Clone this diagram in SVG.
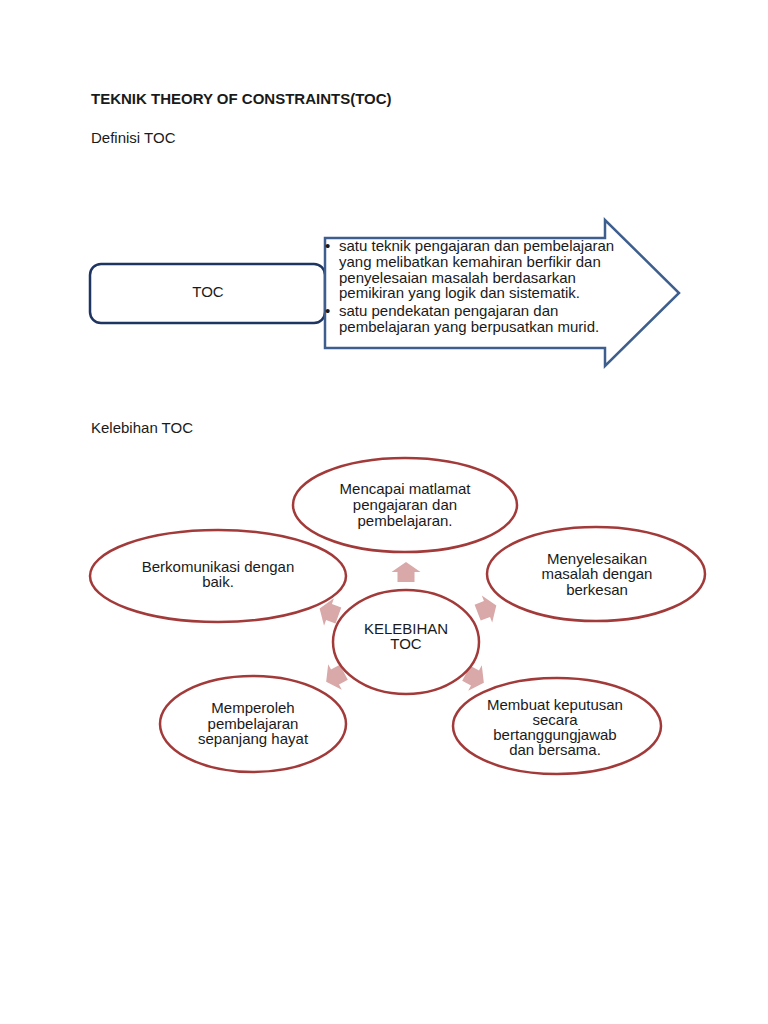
<svg xmlns="http://www.w3.org/2000/svg" xmlns:xlink="http://www.w3.org/1999/xlink" width="768" height="1024" viewBox="0 0 768 1024">
<style>
text{font-family:"Liberation Sans",Arial,sans-serif;font-size:15px;fill:#1a1a1a}
.b{font-weight:bold}
.c{text-anchor:middle}
.el{fill:#ffffff;stroke:#a23a3a;stroke-width:2.5}
.ar{fill:#d9a8a8}
</style>
<defs>
<path id="ba" d="M0,-10 L14.5,0 L8.5,0 L8.5,10 L-8.5,10 L-8.5,0 L-14.5,0 Z"/>
</defs>
<rect width="768" height="1024" fill="#ffffff"/>
<text class="b" x="91" y="104">TEKNIK THEORY OF CONSTRAINTS(TOC)</text>
<text x="91" y="143">Definisi TOC</text>
<g id="toc">
<rect x="90" y="264" width="235" height="59" rx="11" fill="#ffffff" stroke="#1f3561" stroke-width="2.5"/>
<text class="c" x="208" y="297">TOC</text>
</g>
<g id="definisi">
<path d="M325,238 L605,238 L605,220 L679,293 L605,366 L605,348 L325,348 Z" fill="#ffffff" stroke="#3e5f8e" stroke-width="2.5"/>
<text x="325" y="251">•</text>
<text x="339" y="251">satu teknik pengajaran dan pembelajaran</text>
<text x="339" y="267">yang melibatkan kemahiran berfikir dan</text>
<text x="339" y="283">penyelesaian masalah berdasarkan</text>
<text x="339" y="298">pemikiran yang logik dan sistematik.</text>
<text x="325" y="316">•</text>
<text x="339" y="316">satu pendekatan pengajaran dan</text>
<text x="339" y="332">pembelajaran yang berpusatkan murid.</text>
</g>
<text x="91" y="433">Kelebihan TOC</text>
<g id="connectors">
<use xlink:href="#ba" class="ar" transform="translate(406,572)"/>
<use xlink:href="#ba" class="ar" transform="translate(487,609) rotate(69)"/>
<use xlink:href="#ba" class="ar" transform="translate(475,678) rotate(118)"/>
<use xlink:href="#ba" class="ar" transform="translate(335,677) rotate(-118)"/>
<use xlink:href="#ba" class="ar" transform="translate(329,612) rotate(-70)"/>
</g>
<g id="center">
<ellipse class="el" cx="406" cy="642" rx="73" ry="52"/>
<text class="c" x="406" y="634">KELEBIHAN</text>
<text class="c" x="406" y="649">TOC</text>
</g>
<g id="top">
<ellipse class="el" cx="405" cy="505" rx="112" ry="47"/>
<text class="c" x="405" y="494">Mencapai matlamat</text>
<text class="c" x="405" y="510">pengajaran dan</text>
<text class="c" x="405" y="526">pembelajaran.</text>
</g>
<g id="left">
<ellipse class="el" cx="218" cy="576" rx="128" ry="46"/>
<text class="c" x="218" y="572">Berkomunikasi dengan</text>
<text class="c" x="218" y="587">baik.</text>
</g>
<g id="right">
<ellipse class="el" cx="596" cy="574" rx="109" ry="47"/>
<text class="c" x="597" y="564">Menyelesaikan</text>
<text class="c" x="597" y="579">masalah dengan</text>
<text class="c" x="597" y="595">berkesan</text>
</g>
<g id="lowerleft">
<ellipse class="el" cx="253" cy="724" rx="93" ry="48"/>
<text class="c" x="253" y="713">Memperoleh</text>
<text class="c" x="253" y="729">pembelajaran</text>
<text class="c" x="253" y="744">sepanjang hayat</text>
</g>
<g id="lowerright">
<ellipse class="el" cx="557" cy="726" rx="104" ry="48"/>
<text class="c" x="555" y="710">Membuat keputusan</text>
<text class="c" x="555" y="725">secara</text>
<text class="c" x="555" y="740">bertanggungjawab</text>
<text class="c" x="555" y="755">dan bersama.</text>
</g>
</svg>
